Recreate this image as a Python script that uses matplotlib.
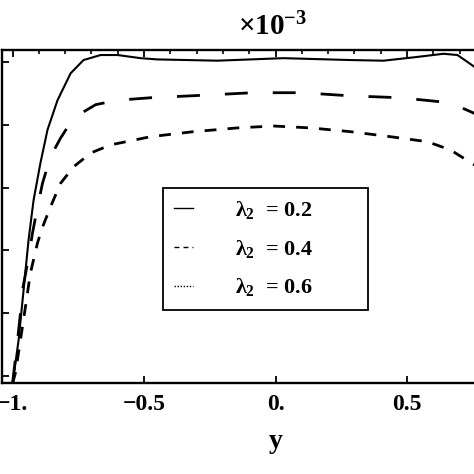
import numpy as np
import matplotlib
matplotlib.use('Agg')
import matplotlib.pyplot as plt
from matplotlib.lines import Line2D
from matplotlib.ticker import MultipleLocator

plt.rcParams['font.family'] = ['Liberation Serif', 'DejaVu Serif']
plt.rcParams['font.weight'] = 'bold'
plt.rcParams['mathtext.fontset'] = 'custom'
plt.rcParams['mathtext.rm'] = 'Liberation Serif:bold'
plt.rcParams['mathtext.it'] = 'Liberation Serif:bold'
plt.rcParams['mathtext.bf'] = 'Liberation Serif:bold'
plt.rcParams['lines.scale_dashes'] = False

# values (y in units of 1e-3)
x_02 = [-1.0, -0.977, -0.958, -0.939, -0.920, -0.894, -0.867, -0.829, -0.779,
        -0.730, -0.665, -0.601, -0.513, -0.449, -0.221, 0.030, 0.285, 0.411,
        0.540, 0.639, 0.692, 0.730, 0.757]
y_02 = [-0.12, 0.57, 1.37, 2.17, 2.80, 3.39, 3.92, 4.39, 4.82,
        5.03, 5.11, 5.11, 5.06, 5.04, 5.02, 5.06, 5.03, 5.02,
        5.08, 5.13, 5.11, 5.00, 4.92]

x_04 = [-1.0, -0.981, -0.970, -0.962, -0.939, -0.924, -0.905, -0.886, -0.856,
        -0.817, -0.768, -0.684, -0.601, -0.475, -0.274, -0.087, 0.103, 0.285,
        0.475, 0.665, 0.703, 0.757]
y_04 = [-0.12, 0.57, 1.00, 1.37, 1.89, 2.28, 2.69, 3.07, 3.49,
        3.79, 4.11, 4.32, 4.39, 4.43, 4.47, 4.51, 4.51, 4.46,
        4.43, 4.35, 4.28, 4.18]

x_06 = [-1.0, -0.989, -0.970, -0.951, -0.932, -0.905, -0.886, -0.856, -0.817,
        -0.768, -0.703, -0.627, -0.475, -0.312, -0.144, -0.008, 0.133, 0.285,
        0.437, 0.578, 0.665, 0.757]
y_06 = [-0.12, 0.05, 0.57, 1.10, 1.64, 2.12, 2.37, 2.69, 3.07,
        3.33, 3.55, 3.68, 3.81, 3.89, 3.95, 3.98, 3.95, 3.89,
        3.81, 3.73, 3.60, 3.36]

xticks = [-1.0, -0.5, 0.0, 0.5]
xticklabels = ['\u22121.', '\u22120.5', '0.', '0.5']
yticks = [0, 1, 2, 3, 4, 5]
labels = [r'$\lambda_2$  = 0.2', r'$\lambda_2$  = 0.4', r'$\lambda_2$  = 0.6']

fig = plt.figure(figsize=(4.74, 4.74), dpi=100)
ax = fig.add_axes([1.5/474, 91/474, 548/474, 333/474])

ax.plot(x_02, y_02, color='black', lw=1.5)
ax.plot(x_04, y_04, color='black', lw=2.0, dashes=(16.5, 18))
ax.plot(x_06, y_06, color='black', lw=2.0, dashes=(8.5, 8))

ax.set_xlim(-1.042, 1.042)
ax.set_ylim(-0.111, 5.19)
ax.set_xticks(xticks)
ax.set_xticklabels(xticklabels, fontsize=17, fontweight='bold')
ax.set_yticks(yticks)
ax.xaxis.set_minor_locator(MultipleLocator(0.1))
ax.tick_params(which='major', direction='in', length=5, width=1.3,
               top=True, bottom=True, left=True, right=False,
               labelleft=False, pad=8)
ax.tick_params(which='minor', direction='in', length=3, width=1.2,
               top=True, bottom=False)
for s in ax.spines.values():
    s.set_linewidth(1.7)
ax.spines['right'].set_visible(False)

ax.set_xlabel('y', fontsize=20, fontweight='bold', labelpad=10)
fig.text(273/474, 1 - 35/474, r'$\times\mathbf{10^{-3}}$', fontsize=21,
         ha='center', va='baseline')

handles = [Line2D([], [], color='black', lw=1.0),
           Line2D([], [], color='black', lw=1.0, dashes=(3.5, 3)),
           Line2D([], [], color='black', lw=1.0, dashes=(1, 1.2))]
leg = ax.legend(handles, labels, loc='upper left', mode='expand',
                bbox_to_anchor=(161/548, 1 - 138/333 - 0.01, 205/548, 0.01),
                fontsize=16, frameon=True, fancybox=False, framealpha=1,
                edgecolor='black', handlelength=0.85, handletextpad=1.9,
                labelspacing=0.75, borderpad=0.5, borderaxespad=0)
leg.get_frame().set_linewidth(1.3)

fig.savefig('out.png', dpi=100)
